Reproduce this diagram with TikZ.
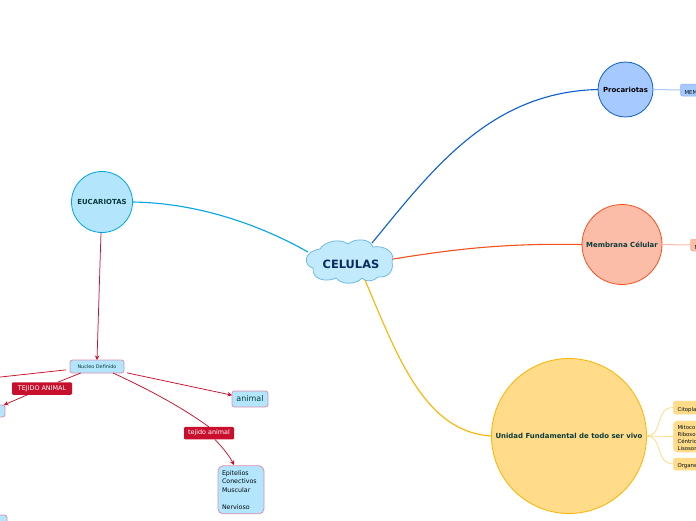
\documentclass[tikz,border=0pt]{standalone}
\usepackage{fontspec}
\setmainfont{DejaVu Sans}
\usetikzlibrary{arrows.meta}
\definecolor{txtdark}{HTML}{0B3B3B}
\definecolor{euF}{HTML}{B3E5FC}\definecolor{euS}{HTML}{00A5E3}
\definecolor{clS}{HTML}{62B4E2}\definecolor{clT}{HTML}{0A2A5E}
\definecolor{prF}{HTML}{A6CAFF}\definecolor{prS}{HTML}{0B5FD0}
\definecolor{meF}{HTML}{FBBCA8}\definecolor{meS}{HTML}{F4511E}
\definecolor{unF}{HTML}{FFDB8A}\definecolor{unS}{HTML}{FFB300}
\definecolor{crim}{HTML}{C8102E}\definecolor{pinkb}{HTML}{DD8FB0}
\newcommand{\dropped}[1]{\raisebox{-1pt}{#1}}
\tikzset{
 every node/.style={inner sep=0pt,outer sep=0pt},
 bubble/.style={circle,draw,line width=.8pt,text=txtdark,font=\bfseries\fontsize{6.95}{8}\selectfont},
 redbox/.style={rectangle,rounded corners=1.2pt,fill=crim,text=white,font=\fontsize{6.4}{8}\selectfont},
 subbox/.style={rectangle,rounded corners=2.5pt,draw=pinkb,fill=euF,line width=.8pt,text=txtdark},
 rightbox/.style={rectangle,rounded corners=2pt,anchor=north west,align=left,text width=36pt,inner xsep=4pt,text=black!70!txtdark,font=\fontsize{5.4}{6.7}\selectfont},
 redline/.style={crim,line width=.75pt},
 redarrow/.style={redline,-{Stealth[length=4.5pt,width=4.5pt]}},
}
\begin{document}
\begin{tikzpicture}[x=1pt,y=-1pt]
\path[use as bounding box,clip] (0,0) rectangle (696,520);
\fill[white] (0,0) rectangle (696,520);
% connector end points on the cloud
\coordinate (cW) at (308,252);
\coordinate (cN) at (372,243);
\coordinate (cE) at (393,259);
\coordinate (cS) at (365,280);
\coordinate (offL) at (-4,377.5);
\coordinate (nucS) at (113,373);
\coordinate (tjlS) at (215,439.5);
\coordinate (epiN) at (234,465);
% main bubbles
\node[bubble,fill=euF,draw=euS,minimum size=61pt] (euc) at (102,202) {\dropped{EUCARIOTAS}};
\node[bubble,fill=prF,draw=prS,minimum size=55pt,text=black] (pro) at (625.5,89.5) {\dropped{Procariotas}};
\node[bubble,fill=meF,draw=meS,minimum size=80pt] (mem) at (622,244.5) {\dropped{Membrana Célular}};
\node[bubble,fill=unF,draw=unS,minimum size=155pt] (uni) at (569,436) {\dropped{Unidad Fundamental de todo ser vivo}};
% cloud
\draw[fill=euF!80!white,draw=clS,line width=.7pt]
 (320,249) .. controls (325,241) and (340,238) .. (348,244)
 .. controls (355,238) and (370,238) .. (373,247)
 .. controls (384,245) and (396,252) .. (392,262)
 .. controls (394,270) and (389,278) .. (378,277)
 .. controls (374,281) and (367,283) .. (362,278)
 .. controls (356,285) and (341,285) .. (336,278)
 .. controls (328,282) and (312,281) .. (313,268)
 .. controls (304,266) and (302,252) .. (320,249) -- cycle;
\node[font=\bfseries\fontsize{11.4}{12}\selectfont,text=clT] (cel) at (351,264) {CELULAS};
% main connectors
\draw[euS,line width=1.1pt] (euc.east) .. controls (200,203) and (262,226) .. (cW);
\draw[prS,line width=1.1pt] (pro.west) .. controls (490,92) and (432,170) .. (cN);
\draw[meS,line width=1.1pt] (mem.west) .. controls (500,243) and (450,250) .. (cE);
\draw[unS,line width=1.1pt] (uni.west) .. controls (425,432) and (398,358) .. (cS);
% red part
\node[subbox,minimum width=54pt,minimum height=13pt,font=\fontsize{4.9}{6}\selectfont] (nuc) at (97,366.5) {Nucleo Definido};
\node[redbox,minimum width=60pt,minimum height=12.5pt] (tej) at (42,388.5) {TEJIDO ANIMAL};
\node[redbox,minimum width=50pt,minimum height=12.5pt] (tjl) at (209,433.2) {tejido animal};
\node[subbox,minimum width=36pt,minimum height=16pt,font=\fontsize{8}{10}\selectfont] (ani) at (250,399) {animal};
\node[subbox,minimum width=30pt,minimum height=12pt] (lft) at (-10,411) {};
\node[subbox,minimum width=30pt,minimum height=16pt] (blt) at (-8,523) {};
\node[subbox,rounded corners=5pt,minimum width=46pt,minimum height=48pt,align=left,text width=38pt,font=\fontsize{6.3}{8.5}\selectfont,text=black!80!txtdark] (epi) at (241,489.8) {Epitelios\\Conectivos\\Muscular\\[8.5pt]Nervioso};
\draw[redarrow] (euc.south) ++(-1,0) -- (nuc.north);
\draw[redline,shorten <=4pt] (nuc) -- (offL);
\draw[redline] (nuc) -- (tej);
\draw[redarrow] (tej) -- (lft);
\draw[redarrow,shorten <=3pt] (nuc) -- (ani);
\draw[redline] (nucS) .. controls (150,390) and (183,408) .. (tjl.north);
\draw[redarrow] (tjlS) .. controls (224,449) and (230,457) .. (epiN);
% right part
\node[rightbox,fill=prF,draw=prF!85!blue,line width=.5pt,minimum height=12pt] (mm) at (680.5,84) {\rule{0pt}{8.5pt}MEM};
\node[rightbox,fill=meF,draw=meF!90!meS,line width=.5pt,minimum height=12pt] (mb) at (690.5,239) {\rule{0pt}{8.5pt}M};
\node[rightbox,fill=unF,draw=unF,line width=.5pt,minimum height=13pt] (ci) at (673.5,401) {\rule{0pt}{8.5pt}Citopla};
\node[rightbox,fill=unF,draw=unF,line width=.5pt,minimum height=31pt,rounded corners=4pt] (mi) at (673.5,421) {\rule{0pt}{7pt}Mitoco\\Riboso\\Céntric\\Lisosor};
\node[rightbox,fill=unF,draw=unF,line width=.5pt,minimum height=12pt] (or) at (673.5,458) {\rule{0pt}{8.5pt}Organe};
\draw[prF,line width=1pt] (pro.east) -- (mm.west);
\draw[meF,line width=1pt] (mem.east) -- (mb.west);
\draw[unF,line width=.8pt] (uni.east) .. controls (664,436) and (654,407) .. (ci.west);
\draw[unF,line width=.8pt] (uni.east) -- (mi.west);
\draw[unF,line width=.8pt] (uni.east) .. controls (664,436) and (654,464) .. (or.west);
\end{tikzpicture}
\end{document}
